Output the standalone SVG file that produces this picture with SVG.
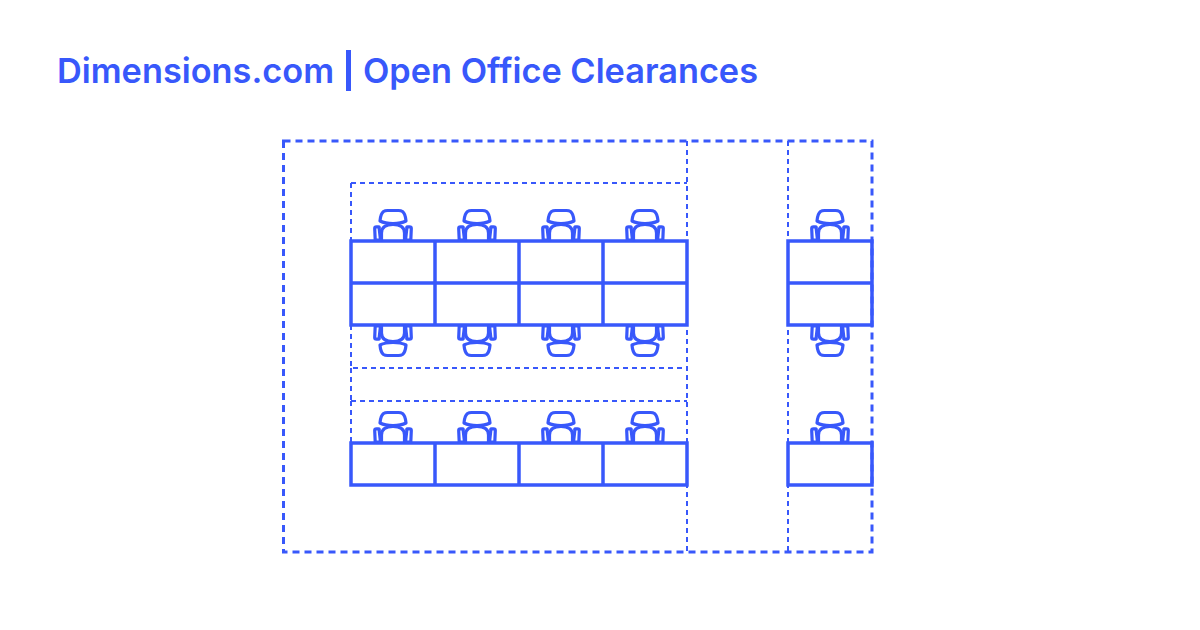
<svg xmlns="http://www.w3.org/2000/svg" width="1200" height="630" viewBox="0 0 1200 630">
<style>
.t{font-family:"Inter","Liberation Sans",sans-serif;font-weight:640;font-size:34.300px;fill:#3858fb}
.d1{fill:none;stroke:#3858fb;stroke-width:3;stroke-dasharray:7 5}
.d2{fill:none;stroke:#3858fb;stroke-width:2;stroke-dasharray:5 4}
.k{fill:none;stroke:#3858fb;stroke-width:3.500}
.s{fill:none;stroke:#3858fb;stroke-width:3.200;stroke-linejoin:round;stroke-linecap:round}
</style>
<defs>
<g id="chair" class="s">
<path d="M-13 221 C-12.500 215 -11.500 213 -9.500 211.500 Q-8 210.500 -5.500 210.500 L5.500 210.500 Q8 210.500 9.500 211.500 C11.500 213 12.500 215 13 221 Q8 223.500 0 223.500 Q-8 223.500 -13 221 Z"/>
<path d="M-11.500 240 L-11.500 233 Q-11.500 224.500 0 224.500 Q11.500 224.500 11.500 233 L11.500 240"/>
<path d="M-12.500 240 L-17.800 240 L-18.300 228.500 Q-18.300 226.800 -16.500 226.800 L-14.500 226.800 Q-13.500 226.800 -13.800 228.500 L-12.500 240"/>
<path d="M12.500 240 L17.800 240 L18.300 228.500 Q18.300 226.800 16.500 226.800 L14.500 226.800 Q13.500 226.800 13.800 228.500 L12.500 240"/>
</g>
</defs>
<text class="t" x="57" y="83">Dimensions.com</text>
<rect x="346" y="50" width="5" height="41" fill="#3858fb"/>
<text class="t" x="363" y="83">Open Office Clearances</text>
<g id="connectors">
<rect class="d1" x="283.500" y="141" width="588.500" height="411"/>
<path class="d2" d="M687 141V552M788 141V552M351 183H687M351 183V241M351 325V368H687M351 368V401M351 401H687M351 401V443"/>
</g>
<g id="desk-row-1">
<path class="k" d="M351 241H687V325H351ZM351 283H687M435 241V325M519 241V325M603 241V325"/>
<use href="#chair" x="393"/><use href="#chair" x="477"/><use href="#chair" x="561"/><use href="#chair" x="645"/>
<use href="#chair" transform="translate(393 566) scale(1 -1)"/><use href="#chair" transform="translate(477 566) scale(1 -1)"/><use href="#chair" transform="translate(561 566) scale(1 -1)"/><use href="#chair" transform="translate(645 566) scale(1 -1)"/>
</g>
<g id="desk-row-2">
<path class="k" d="M351 443H687V485H351ZM435 443V485M519 443V485M603 443V485"/>
<use href="#chair" transform="translate(393 202)"/><use href="#chair" transform="translate(477 202)"/><use href="#chair" transform="translate(561 202)"/><use href="#chair" transform="translate(645 202)"/>
</g>
<g id="desk-single-1">
<path class="k" d="M788 241H872V325H788ZM788 283H872"/>
<use href="#chair" x="830"/>
<use href="#chair" transform="translate(830 566) scale(1 -1)"/>
</g>
<g id="desk-single-2">
<path class="k" d="M788 443H872V485H788Z"/>
<use href="#chair" transform="translate(830 202)"/>
</g>
</svg>
